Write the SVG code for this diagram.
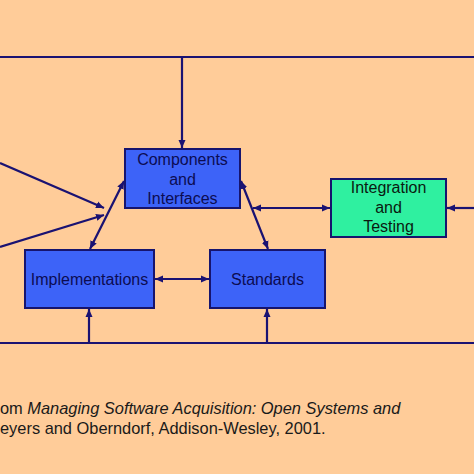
<svg xmlns="http://www.w3.org/2000/svg" width="474" height="474" viewBox="0 0 474 474">
<defs>
<marker id="ah" markerUnits="userSpaceOnUse" markerWidth="9" markerHeight="8" refX="8" refY="3.5" orient="auto-start-reverse" viewBox="0 0 9 7">
<path d="M0,0 L8,3.5 L0,7 z" fill="#1a1272"/>
</marker>
<style>
.ln{stroke:#1a1272;stroke-width:2.2;fill:none}
.box{fill:#3d63f8;stroke:#16146e;stroke-width:2}
.gbox{fill:#2ff0a0;stroke:#16146e;stroke-width:2}
.t{font-family:"Liberation Sans",Arial,sans-serif;font-size:16px;text-anchor:middle;fill:#0c0c52}
.tg{font-family:"Liberation Sans",Arial,sans-serif;font-size:16px;text-anchor:middle;fill:#0a1a10}
.ft{font-family:"Liberation Sans",Arial,sans-serif;font-size:16.4px;fill:#1a1a1a}
</style>
</defs>
<rect x="0" y="0" width="474" height="474" fill="#ffcc99"/>
<g id="connectors">
<line class="ln" x1="0" y1="57" x2="474" y2="57"/>
<line class="ln" x1="0" y1="343" x2="474" y2="343"/>
<line class="ln" x1="182" y1="57" x2="182" y2="148" marker-end="url(#ah)"/>
<line class="ln" x1="89" y1="343" x2="89" y2="309" marker-end="url(#ah)"/>
<line class="ln" x1="267" y1="343" x2="267" y2="309" marker-end="url(#ah)"/>
<line class="ln" x1="0" y1="163" x2="104" y2="208" marker-end="url(#ah)"/>
<line class="ln" x1="0" y1="247" x2="104" y2="215" marker-end="url(#ah)"/>
<line class="ln" x1="124" y1="181" x2="90" y2="249" marker-start="url(#ah)" marker-end="url(#ah)"/>
<line class="ln" x1="241" y1="181" x2="268" y2="249" marker-start="url(#ah)" marker-end="url(#ah)"/>
<line class="ln" x1="155" y1="279" x2="209" y2="279" marker-start="url(#ah)" marker-end="url(#ah)"/>
<line class="ln" x1="253" y1="208" x2="330" y2="208" marker-start="url(#ah)" marker-end="url(#ah)"/>
<line class="ln" x1="474" y1="208" x2="447" y2="208" marker-end="url(#ah)"/>
</g>
<g id="components">
<rect class="box" x="125" y="149" width="115" height="59"/>
<text class="t" x="182.5" y="165">Components</text>
<text class="t" x="182.5" y="185">and</text>
<text class="t" x="182.5" y="204">Interfaces</text>
</g>
<g id="integration">
<rect class="gbox" x="331" y="179" width="115" height="58"/>
<text class="tg" x="388.5" y="193">Integration</text>
<text class="tg" x="388.5" y="213">and</text>
<text class="tg" x="388.5" y="232">Testing</text>
</g>
<g id="implementations">
<rect class="box" x="25" y="250" width="129" height="58"/>
<text class="t" x="89.5" y="285">Implementations</text>
</g>
<g id="standards">
<rect class="box" x="210" y="250" width="115" height="58"/>
<text class="t" x="267.5" y="285">Standards</text>
</g>
<g id="caption">
<text class="ft" x="0" y="414">om <tspan font-style="italic">Managing Software Acquisition: Open Systems and</tspan></text>
<text class="ft" x="0" y="434" font-size="16px">eyers and Oberndorf, Addison-Wesley, 2001.</text>
</g>
</svg>
